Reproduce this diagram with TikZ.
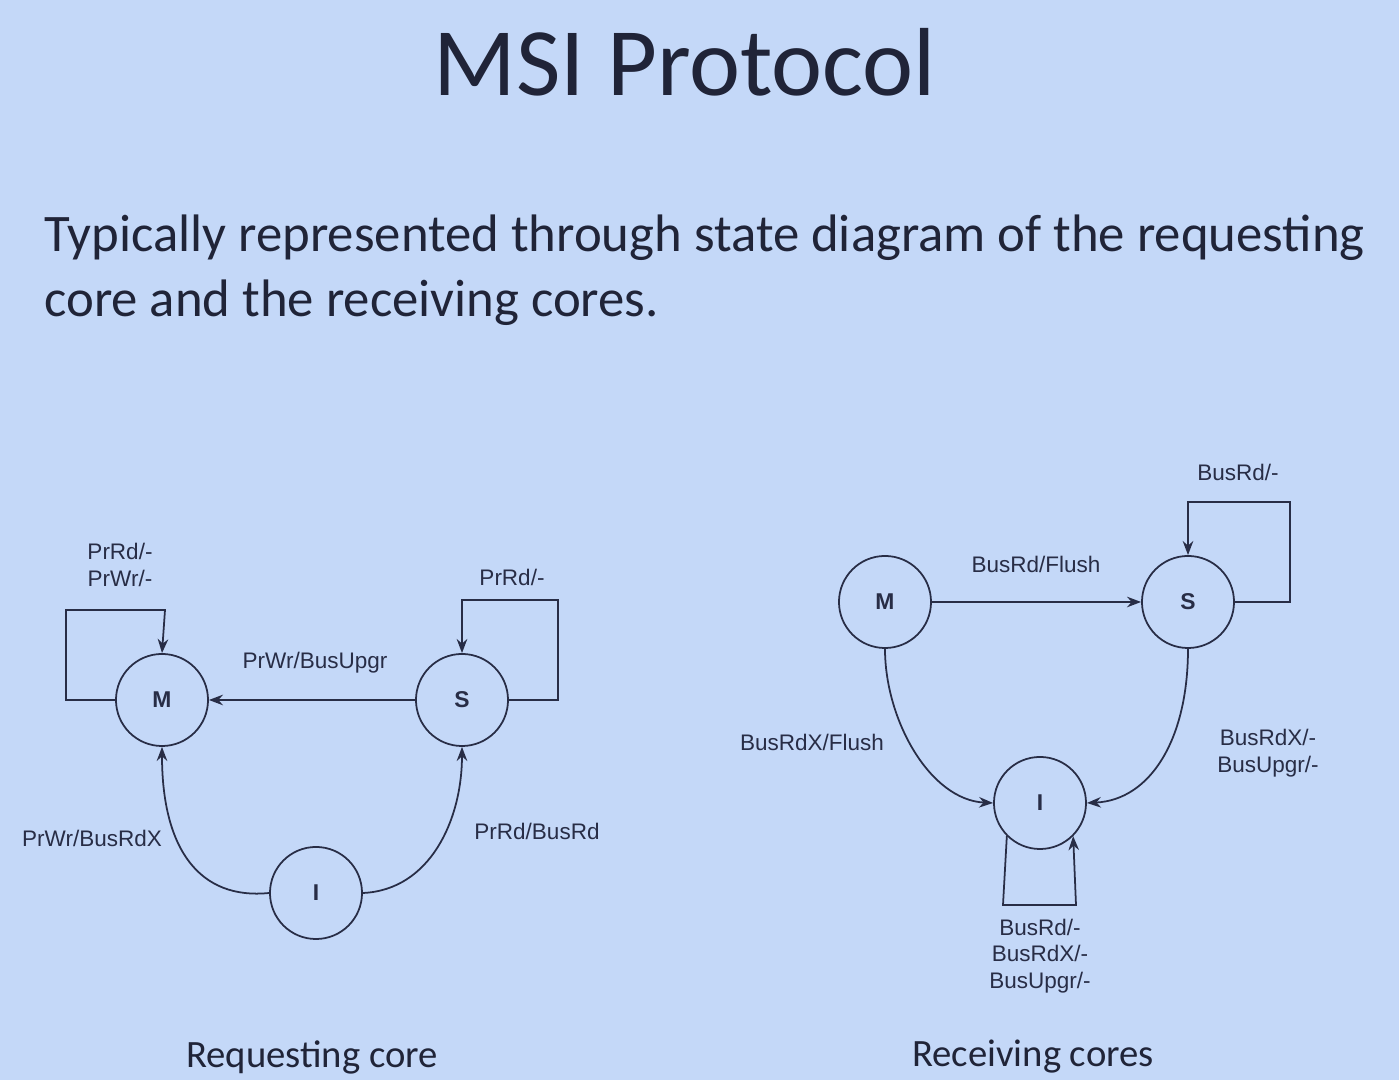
\documentclass[tikz,border=0pt]{standalone}
\usepackage{fontspec}
\setmainfont{Carlito}
\newfontfamily\lab{Liberation Sans}
\usetikzlibrary{arrows.meta}
\definecolor{bg}{RGB}{196,216,248}
\definecolor{ink}{RGB}{40,45,70}
\begin{document}
\begin{tikzpicture}[x=0.01cm,y=-0.01cm,
  st/.style={circle,draw=ink,line width=0.5pt,minimum size=0.92cm,inner sep=0pt,font=\lab\fontsize{6.5}{7}\selectfont\bfseries,text=ink},
  tr/.style={draw=ink,line width=0.5pt,-{Stealth[length=4pt,width=3pt]}},
  lb/.style={font=\lab\fontsize{6.4}{7.6}\selectfont,text=ink,align=center}]
\fill[bg] (0,0) rectangle (1399,1080);
\useasboundingbox (0,0) rectangle (1399,1080);
\node[font=\fontsize{27.5}{32}\selectfont,text=ink!80!black] (title) at (685,62) {MSI Protocol};
\node[anchor=west,font=\fontsize{15}{18}\selectfont,text=ink!80!black] (t1) at (32,238) {Typically represented through state diagram of the requesting};
\node[anchor=west,font=\fontsize{15}{18}\selectfont,text=ink!80!black] (t2) at (32,303) {core and the receiving cores.};
% left
\node[st] (M) at (162,700) {M};
\node[st] (S) at (462,700) {S};
\node[st] (I) at (316,893) {I};
\draw[tr] (M.west) -- (66,700) -- (66,610) -- (165,610) -- (M.north);
\draw[tr] (S.east) -- (558,700) -- (558,600) -- (462,600) -- (S.north);
\draw[tr] (S.west) -- (M.east);
\draw[tr] (I.west) .. controls (200,900) and (162,850) .. (M.south);
\draw[tr] (I.east) .. controls (430,890) and (462,820) .. (S.south);
\node[lb] (l1) at (120,565) {PrRd/-\\PrWr/-};
\node[lb] (l2) at (512,577) {PrRd/-};
\node[lb] (l3) at (315,663) {PrWr/BusUpgr};
\node[lb] (l4) at (92,838) {PrWr/BusRdX};
\node[lb] (l5) at (537,831) {PrRd/BusRd};
% right
\node[st] (M2) at (885,602) {M};
\node[st] (S2) at (1188,602) {S};
\node[st] (I2) at (1040,803) {I};
\draw[tr] (M2.east) -- (S2.west);
\draw[tr] (S2.east) -- (1290,602) -- (1290,502) -- (1188,502) -- (S2.north);
\draw[tr] (M2.south) .. controls (885,720) and (930,800) .. (I2.west);
\draw[tr] (S2.south) .. controls (1188,740) and (1150,800) .. (I2.east);
\draw[tr] (I2.south west) -- (1003,905) -- (1076,905) -- (I2.south east);
\node[lb] (r1) at (1036,564) {BusRd/Flush};
\node[lb] (r2) at (1238,472) {BusRd/-};
\node[lb] (r3) at (812,742) {BusRdX/Flush};
\node[lb] (r4) at (1268,753) {BusRdX/-\\BusUpgr/-};
\node[lb] (r5) at (1040,956) {BusRd/-\\BusRdX/-\\BusUpgr/-};
\node[font=\fontsize{11}{13}\selectfont,text=ink!80!black] (c1) at (312,1057) {Requesting core};
\node[font=\fontsize{11}{13}\selectfont,text=ink!80!black] (c2) at (1033,1057) {Receiving cores};
\end{tikzpicture}
\end{document}
